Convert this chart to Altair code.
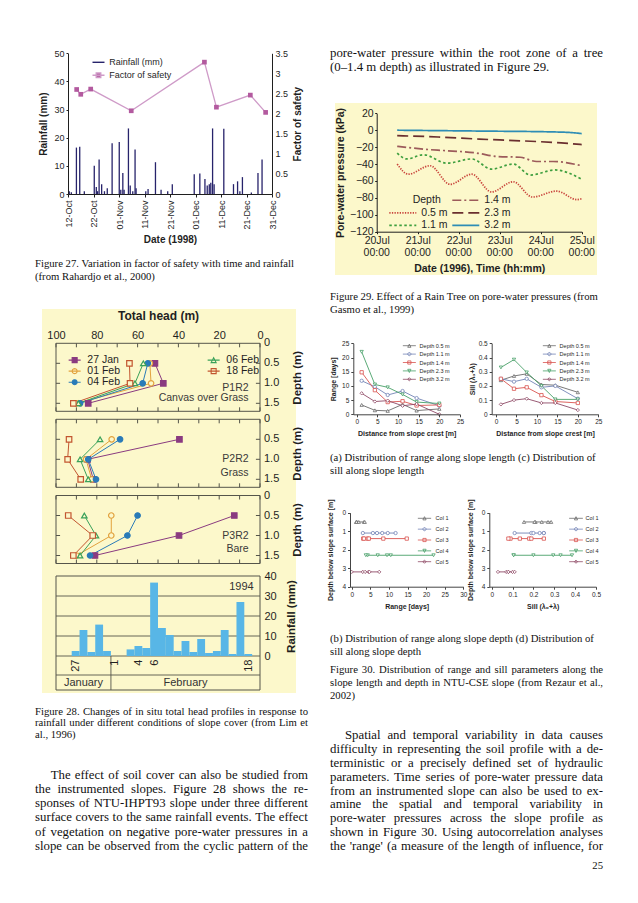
import math
import datetime
import altair as alt
import pandas as pd

# ------------------------------------------------------------------ page geometry helpers
OFF = 8
W, H = 622, 887
SANS = "Liberation Sans"
SERIF = "Liberation Serif"
INK = "#1f1f1f"
YELLOW = "#fcf8cb"
FRAME = "#55554a"
DAY_MS = 86400000


def px(v):
    return round(v - OFF, 2)


def off_left(X):
    return -px(X)


def off_right(X):
    return round(px(X) - W, 2)


def off_bottom(Y):
    return round(px(Y) - H, 2)


def off_top(Y):
    return -px(Y)


def lin(domain, a, b):
    return alt.Scale(domain=domain, range=[px(a), px(b)], nice=False, zero=False)


def utc_scale(t0, t1, a, b):
    return alt.Scale(type="utc", domain=[t0, t1], range=[px(a), px(b)], nice=False)


def utc_ms(y, m, d):
    return int(datetime.datetime(y, m, d, tzinfo=datetime.timezone.utc).timestamp() * 1000)


def lead_scale(axis_px, zero_px, end_px, end_val):
    lead = -(zero_px - axis_px) * end_val / (end_px - zero_px)
    return lin([round(lead, 4), end_val], axis_px, end_px)


def AX(**kw):
    kw.setdefault("zindex", 1)
    kw.setdefault("grid", False)
    return alt.Axis(**kw)


ONE = pd.DataFrame({"k": [0]})


def marker_path(kind, cx, m):
    if kind == "square":
        return f"M{cx-m:.3f},{-m:.3f}H{cx+m:.3f}V{m:.3f}H{cx-m:.3f}Z"
    if kind == "circle":
        pts = [(cx + m * math.cos(a * math.pi / 6), m * math.sin(a * math.pi / 6)) for a in range(12)]
        return "M" + "L".join(f"{x:.3f},{y:.3f}" for x, y in pts) + "Z"
    if kind == "triangle-up":
        return f"M{cx:.3f},{-m:.3f}L{cx+m:.3f},{m:.3f}L{cx-m:.3f},{m:.3f}Z"
    if kind == "triangle-down":
        return f"M{cx:.3f},{m:.3f}L{cx+m:.3f},{-m:.3f}L{cx-m:.3f},{-m:.3f}Z"
    if kind == "diamond":
        return f"M{cx:.3f},{-m:.3f}L{cx+m:.3f},0L{cx:.3f},{m:.3f}L{cx-m:.3f},0Z"
    return ""


def key_path(line_px, r, kind=None, marker_px=0.0):
    left = -1.0
    right = left + line_px / r
    p = f"M{left:.3f},0H{right:.3f}"
    if kind:
        p += marker_path(kind, (left + right) / 2, marker_px / 2 / r)
    return p


def key_legend(x_sym, y_first, row_h, font, line_px, label_x, r, **extra):
    size = (2 * r) ** 2
    entry_h = max(2 * r, font)
    params = dict(orient="none", legendX=px(x_sym), legendY=px(y_first - entry_h / 2),
                  title=None, padding=0, symbolSize=size, labelFont=SANS, labelFontSize=font,
                  labelColor=INK, labelOffset=round(label_x - x_sym - 2 * r, 2),
                  rowPadding=max(0, round(row_h - entry_h, 2)), symbolOpacity=1)
    params.update(extra)
    return alt.Legend(**params)


# ------------------------------------------------------------------ Figure 27 data
F27_START = (1998, 10, 12)
F27_TICK_DAYS = [0, 10, 20, 30, 40, 50, 60, 70, 80]          # 12-Oct ... 31-Dec
F27_RAIN_DAY = [0.5, 1.3, 3.3, 4.6, 6.4, 10.3, 11.1, 11.6, 12.2, 13.2, 14.3, 15.4, 17.3, 20.1, 20.7,
                21.5, 22.0, 23.7, 24.4, 25.4, 26.3, 26.7, 30.5, 31.4, 34.3, 36.5, 39.1, 40.9, 49.5, 51.7,
                53.7, 54.6, 55.4, 56.0, 56.7, 57.3, 61.1, 64.9, 66.5, 67.4, 68.4, 71.9, 74.5, 76.1]
F27_RAIN_MM = [1, 0.6, 16.5, 16.8, 1, 10, 2.5, 1, 12.3, 3.5, 1, 2, 18, 18.5, 1.5,
               7.5, 1.5, 23.3, 3, 1, 15.8, 2, 1, 1.8, 11.3, 1.5, 1, 3.5, 7, 7.3,
               5.3, 3, 3.5, 4, 23.3, 3.5, 23.2, 3.5, 4.5, 1, 6, 0.5, 7.5, 12.3]
F27_FS_DAY = [3.4, 5.0, 8.9, 24.8, 53.5, 58.2, 71.5, 77.5]
F27_FS = [2.60, 2.48, 2.61, 2.07, 3.28, 2.16, 2.46, 2.03]
F27_KEYS = ["Rainfall (mm)", "Factor of safety"]

# ------------------------------------------------------------------ Figure 28 data
F28_SERIES = ["27 Jan", "01 Feb", "04 Feb", "06 Feb", "18 Feb"]
F28_COLOR = ["#8a3b80", "#e2a23e", "#2a7bb8", "#3aa15a", "#c25530"]
F28_SHAPE = ["square", "circle", "circle", "triangle-up", "square"]
F28_FILLED = [True, False, True, False, False]
F28_DEPTH = [0.5, 1.0, 1.5]
F28_P1R2 = {"27 Jan": [51.5, 47.4, 84.2], "01 Feb": [54.0, 53.4, 89.9], "04 Feb": [55.0, 57.5, 88.2],
            "06 Feb": [57.2, 61.3, 89.0], "18 Feb": [64.0, 63.7, 91.5]}
F28_P2R2 = {"27 Jan": [39.5, 84.5, 81.7], "01 Feb": [72.7, 85.3, 82.5], "04 Feb": [68.6, 84.2, 80.4],
            "06 Feb": [78.4, 88.2, 84.2], "18 Feb": [93.6, 94.3, 87.9]}
F28_P3R2 = {"27 Jan": [12.6, 39.7, 80.9], "01 Feb": [72.9, 72.9, 89.9], "04 Feb": [60.0, 65.0, 83.3],
            "06 Feb": [86.1, 80.4, 88.2], "18 Feb": [94.0, 82.0, 91.5]}
F28_HEAD_TICKS = [0, 10, 20, 30, 40, 50, 60, 70, 80, 90, 100]
F28_HEAD_LABELS = [0, 20, 40, 60, 80, 100]
F28_DEPTH_TICKS = [0, 0.5, 1.0, 1.5]
F28_DEPTH_LABELS = ["0", "0.5", "1.0", "1.5"]
F28_RAIN_JAN_DAYS = [27, 28, 29, 30, 31]
F28_RAIN_JAN = [2.5, 13, 2, 15.7, 2.5]
F28_RAIN_FEB_DAYS = [3, 4, 5, 6, 7, 8, 9, 10, 11, 12, 13, 14, 15, 16, 17, 18]
F28_RAIN_FEB = [3.3, 5, 4, 36.7, 14, 10.5, 2.5, 7.5, 2, 8.5, 1.5, 2.5, 13, 1, 27, 1]
F28_DAY_TICKS = [(1, 27), (2, 1), (2, 4), (2, 6), (2, 18)]
F28_MONTHS = ["January", "February"]
F28_RAIN_TICKS = [0, 10, 20, 30, 40]

# ------------------------------------------------------------------ Figure 29 data
F29_START = (1996, 7, 20)
F29_DEPTHS = ["0.5 m", "1.1 m", "1.4 m", "2.3 m", "3.2 m"]
F29_T = {"0.5 m": [0.5, 0.77, 1.3, 1.79, 2.32, 2.8, 3.33, 3.8, 4.39, 4.88, 5.0],
         "1.1 m": [0.5, 0.73, 1.14, 1.71, 2.32, 2.8, 3.33, 3.75, 4.35, 5.0],
         "1.4 m": [0.5, 1.3, 1.63, 2.44, 2.93, 3.5, 3.9, 4.3, 5.0],
         "2.3 m": [0.5, 1.5, 2.5, 3.5, 4.5, 5.0],
         "3.2 m": [0.5, 2.5, 4.3, 4.8, 5.0]}
F29_V = {"0.5 m": [-40, -52, -42, -64, -52, -73, -61, -79, -72, -82, -81],
         "1.1 m": [-27, -34, -29, -39, -34, -46, -40, -53, -47, -58],
         "1.4 m": [-19, -23, -24, -27, -31, -32, -37, -37, -42],
         "2.3 m": [-6.5, -8, -10.5, -12.5, -15, -17],
         "3.2 m": [0, -1, -2, -3, -4]}
F29_DAYS = [0, 1, 2, 3, 4, 5]
F29_TIME_LABEL = "00:00"
F29_KEY_ORDER = ["Depth", "0.5 m", "1.1 m", "1.4 m", "2.3 m", "3.2 m"]
F29_KEY_COLOR = ["transparent", "#c9463d", "#3f9f3f", "#9c5b5b", "#6a2f2f", "#2e8db5"]
F29_KEY_DASH = [[1, 0], [1.3, 1.3], [2.5, 2.5], [9, 3, 2, 3], [11, 5], [1, 0]]

# ------------------------------------------------------------------ Figure 30 data
F30_DIST = [1.2, 4.4, 7.5, 11.1, 14.5, 20.0]
F30_DEPTH = [0.5, 1.1, 1.4, 2.3, 3.2]
F30_RANGE = {0.5: [3.3, 1.4, 1.2, 3.5, 1.3, 1.9], 1.1: [11.8, 9.7, 6.8, 8.2, 5.7, 3.0],
             1.4: [14.8, 8.5, 4.3, 4.6, 3.1, 3.3], 2.3: [22.0, 10.5, 9.5, 7.0, 4.3, 3.8],
             3.2: [7.4, 4.5, 4.8, 3.0, 3.6, 0.0]}
F30_SILL = {0.5: [0.24, 0.27, 0.285, 0.21, 0.205, 0.155], 1.1: [0.25, 0.23, 0.25, 0.19, 0.20, 0.11],
            1.4: [0.25, 0.18, 0.19, 0.135, 0.09, 0.08], 2.3: [0.33, 0.385, 0.295, 0.20, 0.105, 0.105],
            3.2: [0.07, 0.10, 0.11, 0.08, 0.08, 0.03]}
F30_DEPTH_NAMES = ["Depth 0.5 m", "Depth 1.1 m", "Depth 1.4 m", "Depth 2.3 m", "Depth 3.2 m"]
F30_COL_NAMES = ["Col 1", "Col 2", "Col 3", "Col 4", "Col 5"]
F30_COLOR = ["#6b6b6b", "#7384b6", "#d9534f", "#47a068", "#8f4a66"]
F30_SHAPE = ["triangle-up", "circle", "square", "triangle-down", "diamond"]

# ------------------------------------------------------------------ text
RIGHT_TOP = ["pore-water pressure within the root zone of a tree",
             "(0\u20131.4 m depth) as illustrated in Figure 29."]
CAP27 = ["Figure 27. Variation in factor of safety with time and rainfall",
         "(from Rahardjo et al., 2000)"]
CAP29 = ["Figure 29. Effect of a Rain Tree on pore-water pressures (from",
         "Gasmo et al., 1999)"]
SUB_AC = ["(a) Distribution of range along slope length (c) Distribution of",
          "sill along slope length"]
SUB_BD = ["(b) Distribution of range along slope depth (d) Distribution of",
          "sill along slope depth"]
CAP30 = ["Figure 30. Distribution of range and sill parameters along the",
         "slope length and depth in NTU-CSE slope (from Rezaur et al.,",
         "2002)"]
CAP28 = ["Figure 28. Changes of in situ total head profiles in response to",
         "rainfall under different conditions of slope cover (from Lim et",
         "al., 1996)"]
LEFT_BODY = ["The effect of soil cover can also be studied from",
             "the instrumented slopes. Figure 28 shows the re-",
             "sponses of NTU-IHPT93 slope under three different",
             "surface covers to the same rainfall events. The effect",
             "of vegetation on negative pore-water pressures in a",
             "slope can be observed from the cyclic pattern of the"]
RIGHT_BODY = ["Spatial and temporal variability in data causes",
              "difficulty in representing the soil profile with a de-",
              "terministic or a precisely defined set of hydraulic",
              "parameters. Time series of pore-water pressure data",
              "from an instrumented slope can also be used to ex-",
              "amine the spatial and temporal variability in",
              "pore-water pressures across the slope profile as",
              "shown in Figure 30. Using autocorrelation analyses",
              "the 'range' (a measure of the length of influence, for"]
PAGE_NO = "25"

# ================================================================== Figure 27
T27 = utc_ms(*F27_START)
x27 = utc_scale(T27, T27 + 80 * DAY_MS, 68, 272)
yr27 = lin([0, 50], 194, 53.3)
yf27 = lin([0, 3.5], 194, 53.3)
xa27 = AX(orient="bottom", offset=off_bottom(194), values=[T27 + d * DAY_MS for d in F27_TICK_DAYS],
          format="%d-%b", labelAngle=270, labelFontSize=9, labelPadding=3, tickSize=3,
          title="Date (1998)", titleFontSize=10, titleFontWeight="bold", titlePadding=5)
ya27 = AX(orient="left", offset=off_left(68), values=[0, 10, 20, 30, 40, 50], labelFontSize=9,
          tickSize=2, labelPadding=2, title="Rainfall (mm)", titleFontSize=10,
          titleFontWeight="bold", titlePadding=5)
yf_ax27 = AX(orient="right", offset=off_right(272), values=[0, 0.5, 1, 1.5, 2, 2.5, 3, 3.5], format="~g",
             labelFontSize=9, ticks=False, labelPadding=3, title="Factor of safety", titleAngle=270,
             titleBaseline="top", titleFontSize=10, titleFontWeight="bold", titlePadding=5)

rain27 = alt.Chart(pd.DataFrame({"t": [T27 + d * DAY_MS for d in F27_RAIN_DAY], "mm": F27_RAIN_MM})).mark_rule(
    color="#27236b", strokeWidth=1.3).encode(
    x=alt.X("t:T", scale=x27, axis=xa27),
    y=alt.Y("mm:Q", scale=yr27, axis=ya27),
    y2=alt.Y2Datum(0),
)
fs_df = pd.DataFrame({"t": [T27 + d * DAY_MS for d in F27_FS_DAY], "fs": F27_FS})
fs_enc = dict(x=alt.X("t:T", scale=x27, axis=xa27), y=alt.Y("fs:Q", scale=yf27, axis=yf_ax27))
fs_line = alt.Chart(fs_df).mark_line(color="#cf9bc8", strokeWidth=1.3).encode(**fs_enc)
fs_pts = alt.Chart(fs_df).mark_square(color="#b35a9f", size=22, opacity=1).encode(**fs_enc)
fig27 = alt.layer(rain27, alt.layer(fs_line, fs_pts)).resolve_scale(y="independent")

r27 = 2.0
lg27 = key_legend(90, 62.3, 11, 9, 12, 104.3, r27, symbolStrokeWidth=1.4)
leg27 = alt.Chart(pd.DataFrame({"s": F27_KEYS})).mark_point(filled=False, opacity=1).encode(
    x=alt.value(-60), y=alt.value(-60),
    shape=alt.Shape("s:N", scale=alt.Scale(domain=F27_KEYS, range=[key_path(12, r27), key_path(12, r27, "square", 4.5)]), legend=lg27),
    stroke=alt.Stroke("s:N", scale=alt.Scale(domain=F27_KEYS, range=["#27236b", "#cf9bc8"]), legend=lg27),
    fill=alt.Fill("s:N", scale=alt.Scale(domain=F27_KEYS, range=["transparent", "#b35a9f"]), legend=lg27),
)

# ================================================================== Figure 28
x28 = lin([100, 0], 56, 260)

top_axis28 = AX(orient="top", offset=off_top(343.3), values=F28_HEAD_LABELS, ticks=False,
                domain=False, labelFontSize=11, labelPadding=3, title="Total head (m)",
                titleFontSize=12, titleFontWeight="bold", titlePadding=7)


def depth_title_axis():
    return AX(orient="right", offset=off_right(260), values=F28_DEPTH_TICKS, labels=False,
              ticks=False, domain=False, title="Depth (m)", titleAngle=270, titleBaseline="top",
              titleFontSize=11.5, titleFontWeight="bold", titlePadding=31)


def head_panel(values, top, bottom, notes, note_depths, first):
    ys = lin([0, 1.7], top, bottom)
    xa = top_axis28 if first else None
    ya = depth_title_axis()
    frame = alt.Chart(ONE).mark_rect(fill="transparent", stroke=FRAME, strokeWidth=1).encode(
        x=alt.XDatum(100, scale=x28, axis=xa), x2=alt.X2Datum(0),
        y=alt.YDatum(0, scale=ys, axis=ya), y2=alt.Y2Datum(1.7),
    )
    hticks = pd.DataFrame({"h": F28_HEAD_TICKS})
    dticks = pd.DataFrame({"d": F28_DEPTH})
    t_top = alt.Chart(hticks).mark_rule(color=FRAME).encode(
        x=alt.X("h:Q", scale=x28, axis=xa), y=alt.YDatum(0, scale=ys, axis=ya), y2=alt.Y2Datum(0.1))
    t_bot = alt.Chart(hticks).mark_rule(color=FRAME).encode(
        x=alt.X("h:Q", scale=x28, axis=xa), y=alt.YDatum(1.7, scale=ys, axis=ya), y2=alt.Y2Datum(1.6))
    t_r = alt.Chart(dticks).mark_rule(color=FRAME).encode(
        y=alt.Y("d:Q", scale=ys, axis=ya), x=alt.XDatum(0, scale=x28, axis=xa), x2=alt.X2Datum(2))
    t_l = alt.Chart(dticks).mark_rule(color=FRAME).encode(
        y=alt.Y("d:Q", scale=ys, axis=ya), x=alt.XDatum(100, scale=x28, axis=xa), x2=alt.X2Datum(98))
    dlabels = alt.Chart(pd.DataFrame({"d": F28_DEPTH_TICKS, "lab": F28_DEPTH_LABELS})).mark_text(
        align="left", baseline="middle", font=SANS, fontSize=11, color=INK, dx=4).encode(
        x=alt.XDatum(0, scale=x28, axis=xa), y=alt.Y("d:Q", scale=ys, axis=ya), text="lab:N")
    rows = [(s, d, h) for s in F28_SERIES for d, h in zip(F28_DEPTH, values[s])]
    df = pd.DataFrame(rows, columns=["series", "depth", "head"])
    enc = dict(x=alt.X("head:Q", scale=x28, axis=xa), y=alt.Y("depth:Q", scale=ys, axis=ya))
    lines = alt.Chart(df).mark_line(strokeWidth=1).encode(
        **enc, color=alt.Color("series:N", scale=alt.Scale(domain=F28_SERIES, range=F28_COLOR), legend=None),
        order=alt.Order("depth:Q"))
    fills = [c if f else YELLOW for c, f in zip(F28_COLOR, F28_FILLED)]
    pts = alt.Chart(df).mark_point(filled=False, size=30, strokeWidth=1.2, opacity=1).encode(
        **enc,
        stroke=alt.Stroke("series:N", scale=alt.Scale(domain=F28_SERIES, range=F28_COLOR), legend=None),
        fill=alt.Fill("series:N", scale=alt.Scale(domain=F28_SERIES, range=fills), legend=None),
        shape=alt.Shape("series:N", scale=alt.Scale(domain=F28_SERIES, range=F28_SHAPE), legend=None))
    note = alt.Chart(pd.DataFrame({"t": notes, "d": note_depths})).mark_text(
        align="right", baseline="middle", font=SANS, fontSize=10.5, color="#3a3a3a").encode(
        x=alt.XDatum(5.6, scale=x28, axis=xa), y=alt.Y("d:Q", scale=ys, axis=ya), text="t:N")
    return alt.layer(t_top, t_bot, t_r, t_l, lines, pts, note, dlabels, frame)


p1 = head_panel(F28_P1R2, 343.3, 411.3, ["P1R2", "Canvas over Grass"], [1.11, 1.375], True)
p2 = head_panel(F28_P2R2, 419.3, 487.3, ["P2R2", "Grass"], [1.0, 1.35], False)
p3 = head_panel(F28_P3R2, 495.5, 563.5, ["P3R2", "Bare"], [1.01, 1.345], False)

# rainfall panel: dates, with 31 Jan 1994 as day 0
T28 = utc_ms(1994, 1, 31)
rain_idx = [d - 31 for d in F28_RAIN_JAN_DAYS] + list(F28_RAIN_FEB_DAYS)
rain_mm = F28_RAIN_JAN + F28_RAIN_FEB
x28t = utc_scale(T28 - 6.5 * DAY_MS, T28 + 19.5 * DAY_MS, 56, 260)
x28r = lin([-6.5, 19.5], 56, 260)
y28r = lin([0, 40], 656, 576)
ya28r = AX(orient="right", offset=off_right(260), values=F28_RAIN_TICKS, ticks=False, domain=False,
           labelFontSize=11, labelPadding=4, title="Rainfall (mm)", titleAngle=270, titleBaseline="top",
           titleFontSize=11.5, titleFontWeight="bold", titlePadding=9)
bars_df = pd.DataFrame({"a": [T28 + (i - 0.5) * DAY_MS for i in rain_idx],
                        "b": [T28 + (i + 0.5) * DAY_MS for i in rain_idx], "mm": rain_mm})
bars28 = alt.Chart(bars_df).mark_rect(color="#58b6e6").encode(
    x=alt.X("a:T", scale=x28t, axis=AX(
        orient="bottom", offset=off_bottom(656), values=[utc_ms(1994, m, d) for m, d in F28_DAY_TICKS],
        format="%-d", labelAngle=270, ticks=False, domain=False,
        labelFontSize=11, labelPadding=3, title=None)),
    x2="b:T",
    y=alt.Y("mm:Q", scale=y28r, axis=ya28r),
    y2=alt.Y2Datum(0),
)
grid28 = alt.Chart(pd.DataFrame({"g": [10, 20, 30, 0, -9.5]})).mark_rule(color=FRAME, strokeWidth=0.9).encode(
    y=alt.Y("g:Q", scale=y28r, axis=ya28r), x=alt.XDatum(-6.5, scale=x28r, axis=None), x2=alt.X2Datum(19.5))
sep28 = alt.Chart(ONE).mark_rule(color=FRAME, strokeWidth=0.9).encode(
    x=alt.XDatum(0.5, scale=x28r, axis=None), y=alt.YDatum(0, scale=y28r, axis=ya28r), y2=alt.Y2Datum(-17))
frame28 = alt.Chart(ONE).mark_rect(fill="transparent", stroke=FRAME, strokeWidth=1).encode(
    x=alt.XDatum(-6.5, scale=x28r, axis=None), x2=alt.X2Datum(19.5),
    y=alt.YDatum(40, scale=y28r, axis=ya28r), y2=alt.Y2Datum(-17))
months28 = alt.Chart(pd.DataFrame({"t": F28_MONTHS, "c": [-3, 10]})).mark_text(
    font=SANS, fontSize=11, color="#333333", baseline="middle").encode(
    x=alt.X("c:Q", scale=x28r, axis=None), y=alt.YDatum(-13.25, scale=y28r, axis=ya28r), text="t:N")
year28 = alt.Chart(ONE).mark_text(font=SANS, fontSize=11, color="#333333", align="right",
                                  baseline="middle", text="1994").encode(
    x=alt.XDatum(18.7, scale=x28r, axis=None), y=alt.YDatum(34.5, scale=y28r, axis=ya28r))
p4 = alt.layer(alt.layer(grid28, sep28, frame28, months28, year28), bars28).resolve_scale(x="independent")

r28 = 2.6
lg28 = key_legend(66, 360, 10.6, 10.5, 12, 82, r28, columns=2, columnPadding=85, symbolStrokeWidth=1.1)
leg28 = alt.Chart(pd.DataFrame({"n": F28_SERIES})).mark_point(filled=False, opacity=1).encode(
    x=alt.value(-80), y=alt.value(-80),
    shape=alt.Shape("n:N", scale=alt.Scale(domain=F28_SERIES, range=[key_path(12, r28, s, 5.0) for s in F28_SHAPE]), legend=lg28),
    stroke=alt.Stroke("n:N", scale=alt.Scale(domain=F28_SERIES, range=F28_COLOR), legend=lg28),
    fill=alt.Fill("n:N", scale=alt.Scale(domain=F28_SERIES, range=[c if f else YELLOW for c, f in zip(F28_COLOR, F28_FILLED)]), legend=lg28),
)

# ================================================================== Figure 29
T29 = utc_ms(*F29_START)
x29 = utc_scale(T29, T29 + 5 * DAY_MS, 376.7, 581.7)
y29 = lin([-120, 20], 231.7, 113.3)
xa29 = AX(orient="bottom", offset=off_bottom(231.7), values=[T29 + d * DAY_MS for d in F29_DAYS],
          format="%d%b", labelFontSize=10.5, tickSize=2, labelPadding=2,
          title="Date (1996), Time (hh:mm)", titleFontSize=10.5, titleFontWeight="bold", titlePadding=17)
ya29 = AX(orient="left", offset=off_left(376.7), values=list(range(-120, 21, 20)), labelFontSize=10.5,
          tickSize=2, labelPadding=1.5, title="Pore-water pressure (kPa)", titleFontSize=10.5,
          titleFontWeight="bold", titlePadding=4)
rows29 = [(d, T29 + t * DAY_MS, v) for d in F29_DEPTHS for t, v in zip(F29_T[d], F29_V[d])]
df29 = pd.DataFrame(rows29, columns=["depth", "t", "v"])
lg29 = key_legend(388.3, 200, 12.1, 10.5, 27, 419.3, 4.5, columns=2, columnPadding=0,
                  symbolType=key_path(27, 4.5), symbolStrokeWidth=1.7,
                  labelExpr="datum.label == 'Depth' ? '' : datum.label")
fig29 = alt.Chart(df29).mark_line(interpolate="monotone", strokeWidth=1.7).encode(
    x=alt.X("t:T", scale=x29, axis=xa29),
    y=alt.Y("v:Q", scale=y29, axis=ya29),
    color=alt.Color("depth:N", scale=alt.Scale(domain=F29_KEY_ORDER, range=F29_KEY_COLOR), legend=lg29),
    strokeDash=alt.StrokeDash("depth:N", scale=alt.Scale(domain=F29_KEY_ORDER, range=F29_KEY_DASH), legend=lg29),
)
time29 = alt.Chart(pd.DataFrame({"t": [T29 + d * DAY_MS for d in F29_DAYS]})).mark_text(
    font=SANS, fontSize=10.5, color=INK, baseline="middle", dy=21.6, text=F29_TIME_LABEL).encode(
    x=alt.X("t:T", scale=x29, axis=xa29), y=alt.YDatum(-120, scale=y29, axis=ya29))
depth29 = alt.Chart(ONE).mark_text(font=SANS, fontSize=10.5, color=INK, align="left",
                                   baseline="middle", text="Depth").encode(
    x=alt.value(px(412.7)), y=alt.value(px(200)))
fig29_all = alt.layer(fig29, time29)

# ================================================================== Figure 30
rows30 = []
for i, d in enumerate(F30_DEPTH):
    for j, dist in enumerate(F30_DIST):
        rows30.append((F30_DEPTH_NAMES[i], d, dist, F30_RANGE[d][j], F30_SILL[d][j]))
df30 = pd.DataFrame(rows30, columns=["name", "depth", "dist", "rng", "sill"])


def small_axis(orient, at, values, title, title_pad):
    common = dict(values=values, format="~g", labelFontSize=6.5, tickSize=2.5, labelPadding=2,
                  title=title, titleFontSize=7, titleFontWeight="bold", titlePadding=title_pad,
                  domainColor="#444444", tickColor="#444444")
    if orient == "left":
        return AX(orient="left", offset=off_left(at), **common)
    return AX(orient="bottom", offset=off_bottom(at), **common)


def panel30(xf, yf, xs, ys, xaxis, yaxis):
    enc = dict(x=alt.X(f"{xf}:Q", scale=xs, axis=xaxis), y=alt.Y(f"{yf}:Q", scale=ys, axis=yaxis),
               color=alt.Color("name:N", scale=alt.Scale(domain=F30_DEPTH_NAMES, range=F30_COLOR), legend=None))
    line = alt.Chart(df30).mark_line(strokeWidth=0.9).encode(**enc)
    pts = alt.Chart(df30).mark_point(filled=False, fill="white", size=11, strokeWidth=0.8, opacity=1).encode(
        **enc, shape=alt.Shape("name:N", scale=alt.Scale(domain=F30_DEPTH_NAMES, range=F30_SHAPE), legend=None))
    return alt.layer(line, pts)


def key30(names, x_sym, y_first, row_h, line_px, label_x):
    r = 1.6
    lg = key_legend(x_sym, y_first, row_h, 5.5, line_px, label_x, r, symbolStrokeWidth=0.8)
    return alt.Chart(pd.DataFrame({"n": names})).mark_point(filled=False, opacity=1).encode(
        x=alt.value(-80), y=alt.value(-80),
        shape=alt.Shape("n:N", scale=alt.Scale(domain=names, range=[key_path(line_px, r, k, 3.2) for k in F30_SHAPE]), legend=lg),
        stroke=alt.Stroke("n:N", scale=alt.Scale(domain=names, range=F30_COLOR), legend=lg))


SILL_T = "Sill (\u03bb\u2080+\u03bb)"
DIST_T = "Distance from slope crest [m]"
DEPTH_T = "Depth below slope surface [m]"
pa = panel30("dist", "rng", lead_scale(353.3, 356.7, 460, 25), lin([0, 25], 414.3, 343.3),
             small_axis("bottom", 414.3, [0, 5, 10, 15, 20, 25], DIST_T, 4.5),
             small_axis("left", 353.3, [0, 5, 10, 15, 20, 25], "Range [days]", 5))
pc = panel30("dist", "sill", lead_scale(491.7, 496, 598.3, 25), lin([0, 0.5], 414.3, 343.3),
             small_axis("bottom", 414.3, [0, 5, 10, 15, 20, 25], DIST_T, 4.5),
             small_axis("left", 491.7, [0, 0.1, 0.2, 0.3, 0.4, 0.5], SILL_T, 3))
pb = panel30("rng", "depth", lead_scale(350, 351.7, 463.3, 30), lin([0, 4], 512.7, 586.7),
             small_axis("bottom", 586.7, [0, 5, 10, 15, 20, 25, 30], "Range [days]", 4.5),
             small_axis("left", 350, [0, 1, 2, 3, 4], DEPTH_T, 8))
pd_ = panel30("sill", "depth", lead_scale(489.3, 491.7, 596, 0.5), lin([0, 4], 512.7, 586.7),
              small_axis("bottom", 586.7, [0, 0.1, 0.2, 0.3, 0.4, 0.5], SILL_T, 4.5),
              small_axis("left", 489.3, [0, 1, 2, 3, 4], DEPTH_T, 8))
ka = key30(F30_DEPTH_NAMES, 401.7, 345.7, 5.9, 13, 417.3)
kc = key30(F30_DEPTH_NAMES, 541.7, 345.7, 5.9, 13, 557.3)
kb = key30(F30_COL_NAMES, 416.7, 518.3, 8.35, 13.3, 433.3)
kd = key30(F30_COL_NAMES, 568.0, 518.3, 8.35, 13.7, 583.3)

# ================================================================== page text
TNR = {" ": 250, "!": 333, "'": 180, "(": 333, ")": 333, ",": 250, "-": 333, ".": 250, "/": 278,
       ":": 278, ";": 278, "?": 444, "\u2013": 500,
       "A": 722, "B": 667, "C": 667, "D": 722, "E": 611, "F": 556, "G": 722, "H": 722, "I": 333,
       "J": 389, "K": 722, "L": 611, "M": 889, "N": 722, "O": 722, "P": 556, "Q": 722, "R": 667,
       "S": 556, "T": 611, "U": 722, "V": 722, "W": 944, "X": 722, "Y": 722, "Z": 611,
       "a": 444, "b": 500, "c": 444, "d": 500, "e": 444, "f": 333, "g": 500, "h": 500, "i": 278,
       "j": 278, "k": 500, "l": 278, "m": 778, "n": 500, "o": 500, "p": 500, "q": 500, "r": 333,
       "s": 389, "t": 278, "u": 500, "v": 500, "w": 722, "x": 500, "y": 500, "z": 444}


def tw(s, size):
    return sum(TNR.get(ch, 500) for ch in s) / 1000.0 * size


def set_lines(lines, x0, x1, y0, dy, size, justify_upto, indent=0.0):
    out = []
    for i, line in enumerate(lines):
        y = y0 + i * dy
        left = x0 + (indent if i == 0 else 0)
        if i < justify_upto:
            words = line.split(" ")
            widths = [tw(w, size) for w in words]
            gap = (x1 - left - sum(widths)) / (len(words) - 1)
            x = left
            for w, wd in zip(words, widths):
                out.append((w, px(x), px(y), size))
                x += wd + gap
        else:
            out.append((line, px(left), px(y), size))
    return out


BODY = 12.8
CAP = 10.7
rows_t = []
rows_t += set_lines(RIGHT_TOP, 330, 603, 53.3, 13.4, BODY, 1)
rows_t += set_lines(CAP27, 35, 308, 264, 12.5, CAP, 0)
rows_t += set_lines(CAP29, 330, 603, 297, 13, CAP, 0)
rows_t += set_lines(SUB_AC, 330, 603, 458.3, 12.7, CAP, 0)
rows_t += set_lines(SUB_BD, 330, 603, 639.3, 12.4, CAP, 0)
rows_t += set_lines(CAP30, 330, 603, 670, 13.2, CAP, 2)
rows_t += set_lines(CAP28, 35, 308, 711.7, 11.7, CAP, 2)
rows_t += set_lines(LEFT_BODY, 35, 308, 775, 14.14, BODY, 6, indent=15.7)
rows_t += set_lines(RIGHT_BODY, 330, 603, 735, 13.88, BODY, 9, indent=15.0)
rows_t += [(PAGE_NO, px(603 - tw(PAGE_NO, CAP)), px(866), CAP)]
text_df = pd.DataFrame(rows_t, columns=["t", "x", "y", "s"])
serif = alt.Chart(text_df).mark_text(font=SERIF, align="left", baseline="middle", color="#111111").encode(
    x=alt.X("x:Q", scale=None, axis=None), y=alt.Y("y:Q", scale=None, axis=None),
    size=alt.Size("s:Q", scale=None, legend=None), text="t:N")

# ================================================================== backgrounds
bg28 = alt.Chart(ONE).mark_rect(fill=YELLOW).encode(
    x=alt.value(px(42)), x2=alt.value(px(296)), y=alt.value(px(309)), y2=alt.value(px(693)))
bg29 = alt.Chart(ONE).mark_rect(fill=YELLOW).encode(
    x=alt.value(px(335)), x2=alt.value(px(597)), y=alt.value(px(103)), y2=alt.value(px(275)))

chart = alt.layer(
    bg28, bg29, fig27, leg27, p1, p2, p3, p4, leg28, fig29_all, depth29,
    pa, pc, pb, pd_, ka, kc, kb, kd, serif,
).resolve_scale(
    x="independent", y="independent", color="independent", stroke="independent",
    fill="independent", shape="independent", strokeDash="independent",
).properties(
    width=W, height=H, padding=0, autosize=alt.AutoSizeParams(type="none"), background="white",
).configure_view(stroke=None).configure_axis(
    labelFont=SANS, titleFont=SANS, labelColor=INK, titleColor=INK, domainColor=INK, tickColor=INK,
    grid=False, labelFlush=False, labelOverlap=False,
).configure_legend(labelFont=SANS)

chart.save("out.html", embed_options={"renderer": "svg", "actions": False})
